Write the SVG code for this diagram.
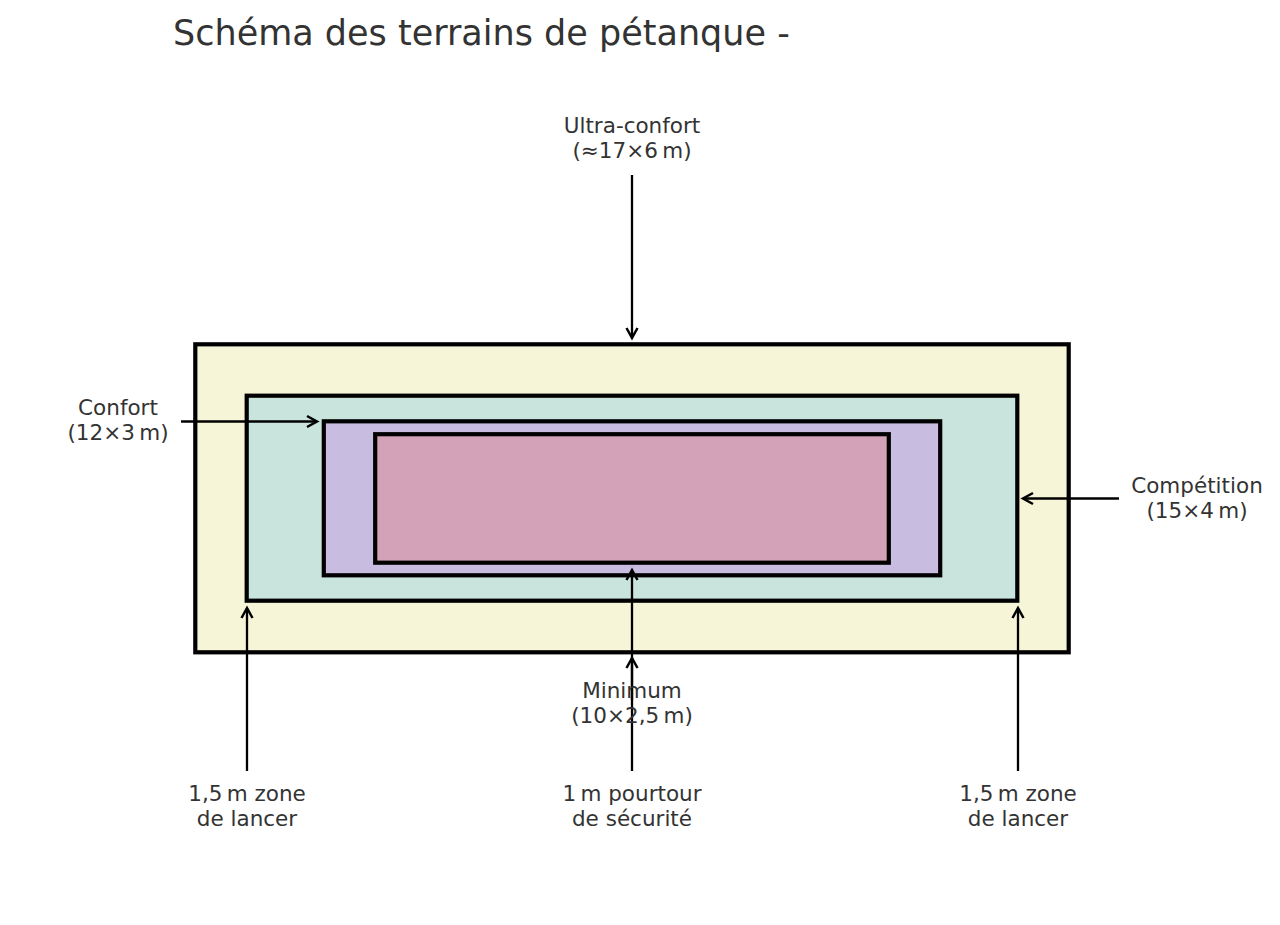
<svg xmlns="http://www.w3.org/2000/svg" width="1280" height="925" viewBox="0 0 1280 925">
<style>
  .zone { stroke: #000; stroke-width: 4.2; stroke-linejoin: miter; }
  .lbl { font-family: "DejaVu Sans", "Liberation Sans", sans-serif; font-size: 21.5px; fill: #333; text-anchor: middle; }
  .title { font-family: "DejaVu Sans", "Liberation Sans", sans-serif; font-size: 35px; fill: #333; }
  .arr { stroke: #000; stroke-width: 2.3; fill: none; marker-end: url(#head); }
</style>
<defs>
  <marker id="head" markerUnits="userSpaceOnUse" viewBox="-12 -8 14 16" refX="0" refY="0" markerWidth="14" markerHeight="16" orient="auto" overflow="visible">
    <path d="M-10,-5.5 L0,0 L-10,5.5" fill="none" stroke="#000" stroke-width="2.5" stroke-linejoin="miter"/>
  </marker>
</defs>
<rect width="1280" height="925" fill="#fff"/>
<text class="title" x="173" y="45">Schéma des terrains de pétanque -</text>
<g id="ultra-confort">
  <rect class="zone" x="195.3" y="344.3" width="873.4" height="308" fill="#f6f5d8"/>
</g>
<g id="competition">
  <rect class="zone" x="246.7" y="395.7" width="770.6" height="205" fill="#c9e4dd"/>
</g>
<g id="confort">
  <rect class="zone" x="323.8" y="421.3" width="616.4" height="154" fill="#c8bde0"/>
</g>
<g id="minimum">
  <rect class="zone" x="375.2" y="434.2" width="513.6" height="128.5" fill="#d4a2b8"/>
</g>
<g id="connectors">
  <path class="arr" d="M632,175 L632,338"/>
  <path class="arr" d="M181,421.5 L317,421.5"/>
  <path class="arr" d="M1119,498.5 L1023,498.5"/>
  <path class="arr" d="M632,771 L632,658"/>
  <path class="arr" d="M632,700 L632,570"/>
  <path class="arr" d="M247,771 L247,608"/>
  <path class="arr" d="M1018,771 L1018,608"/>
</g>
<g id="labels">
  <text class="lbl" x="632" y="133">Ultra-confort</text>
  <text class="lbl" x="632" y="158">(≈17×6&#8239;m)</text>
  <text class="lbl" x="118" y="415">Confort</text>
  <text class="lbl" x="118" y="440">(12×3&#8239;m)</text>
  <text class="lbl" x="1197" y="493">Compétition</text>
  <text class="lbl" x="1197" y="518">(15×4&#8239;m)</text>
  <text class="lbl" x="632" y="698">Minimum</text>
  <text class="lbl" x="632" y="723">(10×2,5&#8239;m)</text>
  <text class="lbl" x="247" y="801">1,5&#8239;m zone</text>
  <text class="lbl" x="247" y="826">de lancer</text>
  <text class="lbl" x="632" y="801">1&#8239;m pourtour</text>
  <text class="lbl" x="632" y="826">de sécurité</text>
  <text class="lbl" x="1018" y="801">1,5&#8239;m zone</text>
  <text class="lbl" x="1018" y="826">de lancer</text>
</g>
</svg>
